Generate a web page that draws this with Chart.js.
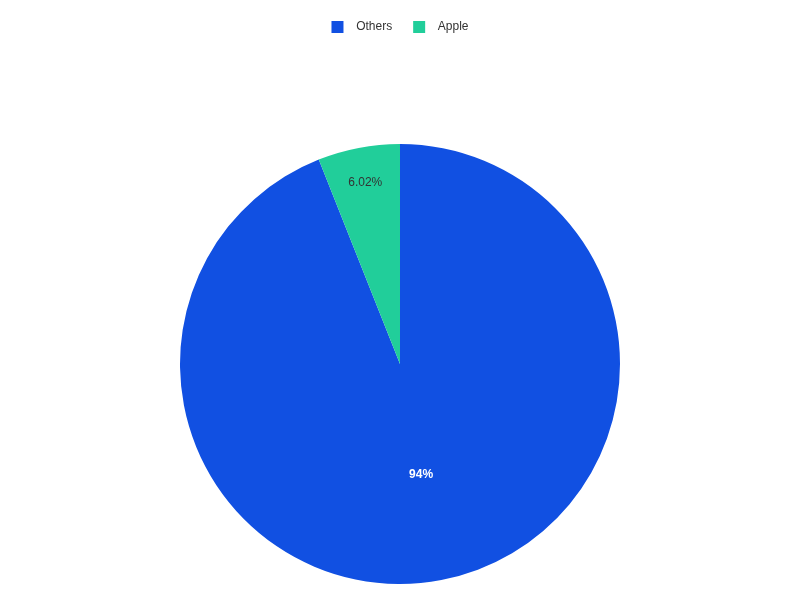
<!DOCTYPE html>
<html>
<head>
<meta charset="utf-8">
<script src="https://cdn.jsdelivr.net/npm/chart.js@4"></script>
<style>
  html, body { margin: 0; padding: 0; background: #fff; }
  #wrap { width: 800px; height: 600px; }
</style>
</head>
<body>
<div id="wrap"><canvas id="shareChart" width="800" height="600"></canvas></div>
<script>
const categories = ["Others", "Apple"];
const shareValues = [93.98, 6.02];
const sliceLabels = ["94%", "6.02%"];
const sliceColors = ["#1150E2", "#21CE9A"];

document.addEventListener("DOMContentLoaded", () => {
    const ctx = document.getElementById("shareChart").getContext("2d");

    // push the pie down so it sits below the legend like the original
    const legendSpace = {
        id: "legendSpace",
        beforeLayout(chart) {
            const legend = chart.legend;
            if (legend && !legend._patched) {
                const fit = legend.fit.bind(legend);
                legend.fit = function () {
                    fit();
                    this.height = 144;
                };
                legend._patched = true;
            }
        }
    };

    // slice labels (no datalabels plugin offline)
    const sliceText = {
        id: "sliceText",
        afterDatasetsDraw(chart) {
            const meta = chart.getDatasetMeta(0);
            const c = chart.ctx;
            meta.data.forEach((arc, i) => {
                const mid = (arc.startAngle + arc.endAngle) / 2;
                const small = shareValues[i] < 10;
                const r = arc.outerRadius * (small ? 0.84 : 0.51);
                c.save();
                c.textAlign = "center";
                c.textBaseline = "middle";
                c.font = (small ? "" : "bold ") + "12px 'Liberation Sans', Arial, sans-serif";
                c.fillStyle = small ? "#333333" : "#ffffff";
                c.fillText(sliceLabels[i], arc.x + Math.cos(mid) * r, arc.y + Math.sin(mid) * r);
                c.restore();
            });
        }
    };

    new Chart(ctx, {
        type: "pie",
        data: {
            labels: categories,
            datasets: [{
                data: shareValues,
                backgroundColor: sliceColors,
                borderWidth: 0
            }]
        },
        options: {
            responsive: false,
            animation: false,
            layout: { padding: { bottom: 16 } },
            plugins: {
                legend: {
                    position: "top",
                    labels: {
                        boxWidth: 12,
                        boxHeight: 12,
                        padding: 21,
                        color: "#333333",
                        font: { family: "'Liberation Sans', Arial, sans-serif", size: 12 },
                        // a little more room between swatch and name
                        generateLabels(chart) {
                            const items = Chart.overrides.pie.plugins.legend.labels.generateLabels(chart);
                            items.forEach(it => { it.text = "  " + it.text; });
                            return items;
                        }
                    }
                },
                tooltip: { enabled: false }
            }
        },
        plugins: [legendSpace, sliceText]
    });
});
</script>
</body>
</html>
